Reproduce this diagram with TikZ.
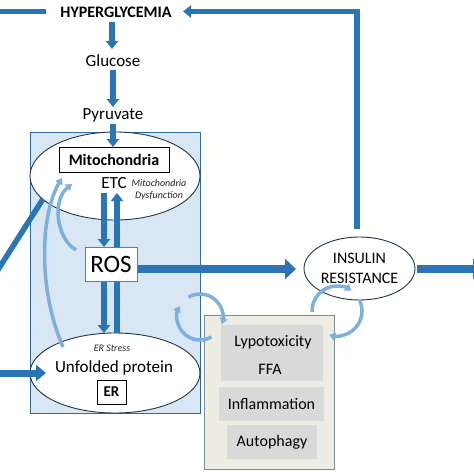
\documentclass[tikz,border=0pt]{standalone}
\usepackage{fontspec}
\setmainfont{Carlito}
\usetikzlibrary{arrows.meta,shapes.geometric}
\definecolor{darkarrow}{HTML}{2A75B5}
\definecolor{lightarrow}{HTML}{7DB0DC}
\definecolor{boxfill}{HTML}{D9E6F3}
\definecolor{boxline}{HTML}{2E6DA6}
\definecolor{ellline}{HTML}{1F3550}
\definecolor{beige}{HTML}{EEEDE4}
\definecolor{beigeline}{HTML}{7E8C99}
\definecolor{grayfill}{HTML}{D9D9D9}
\definecolor{rosline}{HTML}{C5585C}
\tikzset{
  flow/.style={draw=darkarrow, line width=5.5pt, -{Triangle[width=12pt,length=8pt]}},
  bigflow/.style={draw=darkarrow, line width=8.5pt, -{Triangle[width=20pt,length=11pt]}},
  plainline/.style={draw=darkarrow, line width=5.5pt},
  soft/.style={draw=lightarrow, line width=3.5pt, -{Triangle[width=8pt,length=6pt]}},
  cell/.style={ellipse, draw=ellline, line width=0.9pt, fill=white, inner sep=0pt},
  lbl/.style={inner sep=0pt, font=\fontsize{16}{18}\selectfont},
  framebox/.style={draw=black, line width=1pt, fill=white, inner sep=0pt},
  graybox/.style={fill=grayfill, inner sep=0pt, font=\fontsize{16}{18}\selectfont},
}
\begin{document}
\begin{tikzpicture}[x=1pt,y=-1pt]
\useasboundingbox (0,0) rectangle (474,474);
\clip (0,0) rectangle (474,474);
\fill[white] (0,0) rectangle (474,474);

% blue compartment
\draw[fill=boxfill, draw=boxline, line width=1pt] (30,132) rectangle (200,413);

% beige box
\draw[fill=beige, draw=beigeline, line width=1pt] (204,315) rectangle (334,469);
\node[graybox, minimum width=102pt, minimum height=56pt] (lypobox) at (272,353) {};
\node[lbl] (lypo) at (273,342) {Lypotoxicity};
\node[lbl] (ffa) at (270,369) {FFA};
\node[graybox, minimum width=105pt, minimum height=34pt] (infl) at (271.5,404) {Inflammation};
\node[graybox, minimum width=90pt, minimum height=34pt] (auto) at (272,442) {Autophagy};

% ellipses
\node[cell, minimum width=170pt, minimum height=88pt] (mito) at (115,176) {};
\node[cell, minimum width=170pt, minimum height=80pt] (er) at (115,373) {};
\node[cell, minimum width=111pt, minimum height=63pt] (ins) at (359.5,268.5) {};
\node[lbl, align=center, font=\fontsize{16}{20}\selectfont] (instext) at (359.5,268) {INSULIN\\RESISTANCE};

% texts
\node[lbl, font=\bfseries\fontsize{16}{18}\selectfont] (hyper) at (116,12) {HYPERGLYCEMIA};
\node[lbl, font=\fontsize{17}{18}\selectfont] (glucose) at (113,61) {Glucose};
\node[lbl, font=\fontsize{17}{18}\selectfont] (pyruvate) at (113,115) {Pyruvate};
\node[framebox, minimum width=110pt, minimum height=25pt, font=\bfseries\fontsize{16}{18}\selectfont] (mitobox) at (114,159.5) {Mitochondria};
\node[lbl, font=\fontsize{17}{18}\selectfont] (etc) at (114,183) {ETC};
\node[inner sep=0pt, align=center, font=\itshape\fontsize{10}{11.5}\selectfont, text=black!85] (dysf) at (159,190) {Mitochondria\\Dysfunction};
\node[draw=rosline, line width=1pt, fill=white, minimum width=52pt, minimum height=34pt, inner sep=0pt, font=\fontsize{25}{26}\selectfont] (ros) at (111,264.5) {ROS};
\node[inner sep=0pt, font=\itshape\fontsize{10}{12}\selectfont, text=black!85] (erstress) at (112,348) {ER Stress};
\node[lbl, font=\fontsize{17}{18}\selectfont] (unf) at (114,368) {Unfolded protein};
\node[framebox, minimum width=29pt, minimum height=24pt, font=\bfseries\fontsize{15}{18}\selectfont] (erbox) at (111.5,392) {ER};

% coordinates for free ends
\coordinate (tl0) at (0,11.5);
\coordinate (tl1) at (46,11.5);
\coordinate (fbTop) at (357,229);
\coordinate (fbCorner) at (357,11.5);
\coordinate (fbTip) at (183,11.5);
\coordinate (rightEnd) at (484,269);
\coordinate (leftIn) at (0,373);
\coordinate (diagA) at (43,199);
\coordinate (diagB) at (-6,276);

% dark arrows
\draw[plainline] (tl0) -- (tl1);
\draw[flow] (fbTop) -- (fbCorner) -- (fbTip);
\draw[flow] (112,22) -- (112,49);
\draw[flow] (113,70) -- (113,107);
\draw[flow] (113,124) -- (113,147);
\draw[flow] (104,193) -- (104,247);
\draw[flow] (117,247) -- (117,193);
\draw[flow] (104,282) -- (104,333);
\draw[plainline] (117,282) -- (117,333);
\draw[bigflow] (ros.east |- 0,269) -- (296,269);
\draw[bigflow] (417,269) -- (rightEnd);
\draw[draw=darkarrow, line width=7pt, -{Triangle[width=16pt,length=10pt]}] (leftIn) -- (46,373);
\draw[plainline] (diagA) -- (diagB);

% light curved arrows
\coordinate (s1) at (63,347);
\coordinate (e1) at (62,178);
\coordinate (s2) at (76,250);
\coordinate (e2) at (72,184);
\draw[soft] (s1) .. controls (38,290) and (40,215) .. (e1);
\draw[soft] (s2) .. controls (56,238) and (52,200) .. (e2);

% cycle arrows
\draw[soft] (200,317) ++(60:23) arc[start angle=60, end angle=208, radius=23];
\draw[soft] (200,317) ++(240:23) arc[start angle=240, end angle=378, radius=23];
\draw[soft] (337,311) ++(178:25) arc[start angle=178, end angle=305, radius=25];
\draw[soft] (337,311) ++(-25:25) arc[start angle=-25, end angle=108, radius=25];
\end{tikzpicture}
\end{document}
